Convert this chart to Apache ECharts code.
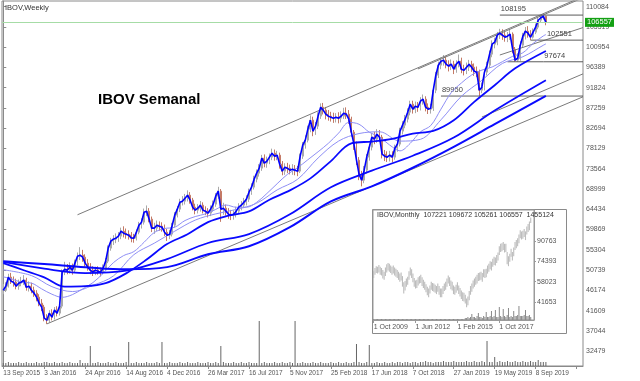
<!DOCTYPE html>
<html><head><meta charset="utf-8">
<script src="https://cdn.jsdelivr.net/npm/echarts@6/dist/echarts.min.js"></script>
<style>html,body{margin:0;padding:0;background:#fff}#c{width:640px;height:381px}</style>
</head><body><div id="c"></div>
<script>
// ---------------- DATA ----------------
const xTickLabels = ['13 Sep 2015','3 Jan 2016','24 Apr 2016','14 Aug 2016','4 Dec 2016','26 Mar 2017','16 Jul 2017','5 Nov 2017','25 Feb 2018','17 Jun 2018','7 Oct 2018','27 Jan 2019','19 May 2019','8 Sep 2019'];
const yTicks = [32479,37044,41609,46174,50739,55304,59869,64434,68999,73564,78129,82694,87259,91824,96389,100954,105519,110084];

const closes = [46200,47110,49140,48240,48010,47110,47790,48010,48470,46890,
47110,46210,45540,44640,43280,42380,39900,39450,41030,40130,
41710,41030,42610,50270,50940,50720,51390,50720,52300,53870,
54100,53650,52300,51390,50720,50270,50720,50500,50270,51170,
52750,55680,57250,57700,57930,58380,59500,59050,58830,58600,
57950,57930,59270,60850,61530,63780,64010,62210,60180,60180,
60850,60630,60400,59270,58600,58830,60850,63110,64460,66040,
66260,66940,67610,66490,64910,64240,64680,65360,64240,64010,
63560,64460,65590,67390,68520,64460,64680,64010,63340,63110,
63340,64010,64910,65360,66040,66710,68290,69420,71220,72570,
73700,75950,74830,75280,76180,77080,76400,76630,74600,73030,
73920,73700,73250,73470,73250,73030,76400,78880,80010,82490,
84520,82040,83160,85430,87440,86770,85870,85430,85190,84970,
85190,84970,85430,86090,85870,84740,81810,79110,75500,72350,
70990,73250,76180,78430,80680,80230,81360,80680,76850,76400,
76180,76630,76180,78210,79110,82040,83390,84740,86320,88120,
86990,87670,87440,88800,89240,87440,86990,87220,91270,94650,
96900,97810,98030,97130,96680,97130,96000,97130,97810,96000,
95780,96450,97130,96450,95550,95330,91270,91950,95330,96900,
99380,101630,102090,103660,104110,103660,103210,103440,103890,100510,
98030,98480,101410,103440,104560,104110,103210,104340,105470,107040,
107600,107950,106557];

const highs = [47600,48000,49900,50100,49300,48800,48600,49200,49600,49000,
48200,47900,47000,46200,45300,44200,42900,40800,41700,41900,
42400,42600,43600,50900,52600,52100,52500,52200,53100,54700,
55900,55300,54300,53200,52300,51600,51500,51600,51300,52000,
53400,56300,58000,58600,59000,59300,60300,60600,60100,59700,
59300,58900,59900,61600,62400,64600,65300,64700,62800,61400,
61900,61700,61500,61000,60000,59800,61400,63800,65200,66800,
67400,67900,68700,68300,67000,65700,65600,66300,66000,65100,
64700,65300,66400,68100,69500,69000,65900,65500,64700,64300,
64200,65000,65800,66300,67000,67600,69100,70300,72000,73400,
74600,76700,76800,76300,77000,78100,77900,77600,77200,75300,
74800,74900,74500,74600,74400,74200,77000,79600,81100,83300,
85600,85300,84100,86300,88300,88400,87500,86800,86400,86200,
86100,86300,86500,87300,87400,86800,85300,82300,79700,76200,
73100,74200,76900,79200,81600,81900,82500,82300,81200,77800,
77500,77600,77500,79000,80200,82800,84300,85700,87200,88900,
88900,88700,88600,89700,90300,89900,88300,88200,92100,95400,
97700,98600,99200,98900,98000,98200,97900,98000,99300,98600,
97000,97500,98100,97900,97300,96600,95900,93000,96100,97700,
100200,102500,103100,104400,105100,105000,104500,104400,105000,104300,
101000,99600,102300,104200,105500,105700,104800,105200,106300,107800,
108100,108195,108000];

const lows = [45300,45800,46800,47600,47000,46400,46300,47100,47400,46100,
45900,45500,44700,43700,42600,41500,39200,38600,38900,39400,
39600,40300,40500,42100,49600,49800,49900,49700,50100,51800,
53000,52600,51500,50600,49800,49400,49600,49700,49300,49800,
50700,52300,55100,56400,56800,57100,57700,58100,57800,57600,
57000,56900,57400,58800,60100,61000,62900,61500,59300,58900,
59500,59600,59400,58400,57300,57700,58300,60300,62600,63800,
65300,65500,66200,65700,64200,63300,63500,63900,63500,63100,
62600,62900,63900,65000,66800,61600,63200,63000,62300,62000,
62100,62600,63400,64200,64700,65300,66100,67700,68900,70500,
71800,73100,73900,73800,74600,75500,75400,75500,73600,72100,
72200,72600,72300,72200,72100,71900,72600,75800,78100,79500,
81800,80900,81200,82500,84800,85800,84700,84400,84200,83900,
84000,83800,84000,84800,84800,83700,80800,77800,74400,71000,
69600,70300,72500,75400,77700,79100,79400,79700,75900,75300,
75100,75200,75000,75600,77400,78600,81300,82700,84000,85600,
86000,86100,86400,86700,88000,86500,85900,86000,86600,90600,
94000,96000,96800,96200,95500,95800,94900,95200,96400,95100,
94600,94900,95600,95400,94500,94200,89950,90600,91200,94600,
96300,98700,100700,101400,102800,102600,102200,102100,102600,99600,
97674,97700,97900,100800,102700,103100,102551,102900,103900,105000,
106500,107200,105900];

const volumes = [3,3,4,3,3,3,4,3,3,4,
3,3,3,4,3,3,4,4,3,3,
4,3,3,4,3,3,4,3,3,3,
6,3,3,3,20,3,3,4,3,3,
3,4,3,3,4,3,3,3,4,24,
3,3,4,3,3,3,4,3,3,3,
4,3,24,3,3,4,3,3,3,4,
3,3,4,3,3,3,4,3,3,3,
4,3,3,4,3,20,4,3,3,3,
4,3,3,4,3,3,4,3,3,3,
45,3,4,3,3,3,4,3,3,4,
3,3,4,3,45,3,3,4,3,3,
3,4,3,3,4,3,3,3,4,3,
3,4,3,3,4,3,3,4,22,4,
3,3,4,21,3,3,4,3,3,4,
3,3,4,3,4,4,3,4,4,3,
4,4,3,4,4,5,4,4,3,4,
4,4,5,4,4,4,5,4,4,4,
4,5,4,4,5,4,4,5,4,25,
4,4,9,4,5,4,4,5,4,4,
5,4,4,5,4,4,5,4,4,6,
4,4,4];

// moving averages read at selected weeks (week index, value)
const maFastIdx = [0,3,7,11,15,19,23,27,31,35,39,43,47,51,55,59,63,67,71,75,79,83,87,91,95,99,103,107,111,115,119,123,127,131,135,139,143,147,151,155,159,163,167,171,175,179,183,187,191,195,199,203,207,211,212];
const maFast = [49200,48800,48000,47800,46500,45300,44600,45200,46500,47900,50000,52400,54000,54900,57000,59200,60100,60400,61900,62800,63400,64400,65400,64900,64900,66000,68000,70200,72300,73800,75600,77400,79300,81600,84000,83600,81800,80700,78900,77600,79300,81900,83300,87000,90700,92900,94700,95800,96500,97700,98900,99700,101800,103500,103800];
const maMidIdx = [0,11,19,27,35,43,51,59,67,75,83,91,99,107,115,123,131,139,147,155,163,171,179,187,195,203,211,212];
const maMid = [50800,49500,47000,45900,47300,49400,54200,56800,59500,62000,63400,64400,65800,68800,71200,76000,79800,81500,81900,79800,80200,84600,89900,93500,97300,98800,101400,101700];
const ma40Idx = [0,8,16,24,32,40,48,56,64,72,80,88,96,104,112,120,128,136,144,152,160,168,176,184,192,200,212];
const ma40 = [52300,50700,49100,47000,47100,47800,50000,53100,56600,58800,61550,63000,63950,66600,68700,71400,75300,79300,79700,80300,81500,82100,84500,88650,92400,96200,100100];
const maSlowIdx = [0,16,32,48,64,80,96,112,128,144,160,176,192,212];
const ma70 = [52560,51050,50070,50590,53220,56840,58850,63300,69390,73140,76500,80600,86680,93500];
const ma100 = [52700,52100,51400,50900,51400,54300,56100,60400,66200,69600,73800,78500,83600,90000];

// trend lines: [week index, price] pairs
const trendLines = [
  [[29,63200],[227,112500]],
  [[162,96050],[226.5,112100]],
  [[194,99200],[226.5,105380]],
  [[187,85230],[226.5,94950]],
  [[17,38600],[226.5,89780]]
];
// horizontal levels
const levelValues = [108195,102551,97674,89950];
const levelFrom   = [194,206,197,171];
const levelLabelAt= [194,212,211,171];

// monthly inset
const insetXLabels = ['1 Oct 2009','1 Jun 2012','1 Feb 2015','1 Oct 2017'];
const insetYTicks = [41653,58023,74393,90763];
const insetHeader = 'IBOV,Monthly  107221 109672 105261 106557  1455124';
const mHigh = [66500,69000,70500,70000,71500,70000,69000,67500,66000,69500,
72000,73000,72500,71000,70000,71000,69500,68500,67500,66000,
64500,65500,62500,57500,58500,60500,62000,66500,69500,68000,
64500,61000,59000,59500,61500,62500,63500,61500,59500,58000,
56000,54000,52500,55000,58000,57000,56500,55500,54500,56500,
54500,52500,52500,54500,56500,58000,60500,63000,61500,59000,
58000,55000,54000,55500,57500,55000,53000,51000,49500,49000,
47500,44500,46000,50500,54500,56500,59000,60500,62000,63500,
65000,65500,66000,65000,68000,68000,68500,71000,72500,74500,
74000,76500,78000,77500,79500,81500,86500,88500,89000,90000,
88500,88500,82000,78500,80500,84500,82000,85500,90000,91500,
93000,96000,99500,98500,99000,100500,98500,102500,104500,106500,
109672];
const mLow = [61000,63500,65000,64500,65500,63500,63000,60500,59500,62500,
65500,67000,66000,65000,63500,64500,63000,62000,61000,59500,
58000,59000,54000,48500,51000,54000,55500,59500,63000,61000,
57500,54000,52500,53000,55000,56500,57000,54500,53000,51500,
49500,47000,45500,48500,51500,50500,50000,49000,48000,50000,
47500,45500,45500,48000,50500,51500,54000,56500,54500,52000,
51000,48000,47500,49000,51000,48000,46000,44000,42500,42000,
40500,37500,39000,43000,47500,50000,52500,54000,55500,56500,
58500,59000,59500,58000,61500,61000,61500,64500,66000,68000,
67000,70000,71500,71000,73000,75000,79500,82000,82500,83500,
81500,82000,72000,70500,74000,78000,75000,78500,83500,85000,
86500,89000,93000,92000,92500,94000,91500,96000,98000,99500,
105261];
const mVolumes = [1,1,1,1,1,1,1,1,1,1,1,1,1,1,1,1,1,1,1,1,
1,1,1,1,1,1,1,1,1,1,1,1,1,1,1,1,1,1,1,1,
1,1,1,1,1,1,1,1,1,1,1,1,1,1,1,1,1,1,1,1,
1,1,1,1,1,1,1,1,1,1,
2,2,3,2,3,6,3,3,2,4,
7,3,3,2,4,3,8,3,3,4,
9,3,4,10,3,3,13,4,3,11,
4,3,5,12,3,4,3,9,4,4,
5,14,4,4,4,5,10,4,4,5,3];

// ---------------- CHART ----------------
const FONT = 'Liberation Sans';
const N = 227;           // weekly slots on the axis (data + right shift)
const M = 123;           // monthly slots in inset
const cats = Array.from({length: N}, (_, i) => String(i));
const mCats = Array.from({length: M}, (_, i) => String(i));
const lastPrice = closes[closes.length - 1];
const candles = closes.map((c, i) => [i ? closes[i - 1] : c, c, lows[i], highs[i]]);
const pairs = (idx, vals) => idx.map((k, j) => [k, vals[j]]);

const chart = echarts.init(document.getElementById('c'), null, {renderer: 'canvas'});

const series = [];
series.push({
  type: 'candlestick', xAxisIndex: 0, yAxisIndex: 0, data: candles, barWidth: 1.4, z: 1,
  itemStyle: {color: '#e4e4e4', color0: '#d99a88', borderColor: '#a9a9a9', borderColor0: '#c47a66', borderWidth: 1}
});
series.push({
  type: 'bar', xAxisIndex: 2, yAxisIndex: 1, data: volumes, barWidth: 1, z: 1,
  itemStyle: {color: '#666'}
});
trendLines.forEach(t => series.push({
  type: 'line', xAxisIndex: 1, yAxisIndex: 0, data: t, symbol: 'none', z: 2,
  lineStyle: {color: '#7a7a7a', width: 1}
}));
levelValues.forEach((v, k) => series.push({
  type: 'line', xAxisIndex: 1, yAxisIndex: 0, symbol: 'circle', symbolSize: 0.01, z: 2,
  lineStyle: {color: '#5a5a5a', width: 1},
  data: [[levelFrom[k], v],
         {value: [levelLabelAt[k], v], label: {show: true, formatter: String(v), position: [1, -10], fontSize: 7.5, fontFamily: FONT, color: '#444'}},
         [N - 0.5, v]]
}));
const maStyle = (c, w) => ({type: 'line', xAxisIndex: 1, yAxisIndex: 0, symbol: 'none', smooth: 0.35, z: 3, lineStyle: {color: c, width: w}});
series.push(Object.assign(maStyle('#8f8ff5', 1), {data: pairs(maFastIdx, maFast)}));
series.push(Object.assign(maStyle('#8f8ff5', 1), {data: pairs(maMidIdx, maMid)}));
series.push(Object.assign(maStyle('#0a0aff', 1.8), {data: pairs(ma40Idx, ma40)}));
series.push(Object.assign(maStyle('#0a0aff', 1.8), {data: pairs(maSlowIdx, ma70)}));
series.push(Object.assign(maStyle('#0a0aff', 2), {data: pairs(maSlowIdx, ma100)}));
series.push({
  type: 'line', xAxisIndex: 0, yAxisIndex: 0, data: closes, symbol: 'none', z: 4,
  lineStyle: {color: '#0000ff', width: 1.6},
  markLine: {silent: true, symbol: 'none', animation: false,
    lineStyle: {color: '#a6dca6', width: 1, type: 'solid'},
    label: {position: 'end', distance: 2, formatter: String(lastPrice), color: '#fff', backgroundColor: '#14a014', padding: [1, 2, 0, 2], fontSize: 7.5, fontFamily: FONT},
    data: [{yAxis: lastPrice}]}
});
// inset
series.push({
  type: 'custom', xAxisIndex: 3, yAxisIndex: 2, z: 60,
  data: mHigh.map((h, k) => [k, mLow[k], h]),
  encode: {x: 0, y: [1, 2]},
  renderItem: (params, api) => {
    const a = api.coord([api.value(0), api.value(1)]);
    const b = api.coord([api.value(0), api.value(2)]);
    return {type: 'line', shape: {x1: a[0], y1: a[1], x2: b[0], y2: b[1]}, style: {stroke: '#bdbdbd', lineWidth: 1.1}};
  }
});
series.push({
  type: 'line', xAxisIndex: 3, yAxisIndex: 2, data: [], z: 60,
  markLine: {silent: true, symbol: 'none', animation: false,
    lineStyle: {color: '#a6dca6', width: 1, type: 'solid'},
    label: {position: 'end', distance: 1, formatter: String(lastPrice), color: '#fff', backgroundColor: '#14a014', padding: [1, 2, 0, 2], fontSize: 7, fontFamily: FONT},
    data: [{yAxis: lastPrice}]}
});
series.push({
  type: 'bar', xAxisIndex: 4, yAxisIndex: 3, data: mVolumes, barWidth: 1, z: 60,
  itemStyle: {color: '#888'}
});

const labelStyle = {fontSize: 7, fontFamily: FONT, color: '#555'};
chart.setOption({
  animation: false,
  backgroundColor: '#fff',
  grid: [
    {left: 2, top: 1, width: 581, bottom: 15, show: true, borderColor: '#8a8a8a', borderWidth: 1},
    {left: 2, width: 581, bottom: 15, height: 60},
    {left: 373, top: 210, width: 161, height: 110, show: true, borderColor: '#9a9a9a', borderWidth: 1, z: 55},
    {left: 373, top: 304, width: 161, height: 16, z: 55}
  ],
  xAxis: [
    {type: 'category', gridIndex: 0, data: cats, boundaryGap: true,
     axisLine: {show: true, lineStyle: {color: '#8a8a8a'}},
     axisTick: {show: true, interval: 15, alignWithLabel: true, length: 3, lineStyle: {color: '#8a8a8a'}},
     axisLabel: {interval: 15, showMinLabel: true, hideOverlap: false, align: 'left', margin: 4, fontSize: 6.5, fontFamily: FONT, color: '#555', formatter: (v, i) => xTickLabels[i / 16] || ''},
     splitLine: {show: false}},
    {type: 'value', gridIndex: 0, min: -0.5, max: N - 0.5, show: false},
    {type: 'category', gridIndex: 1, data: cats, show: false},
    {type: 'category', gridIndex: 2, data: mCats, z: 60,
     axisLine: {show: true, lineStyle: {color: '#9a9a9a'}},
     axisTick: {show: true, interval: 31, alignWithLabel: true, length: 3, lineStyle: {color: '#9a9a9a'}},
     axisLabel: {interval: 31, showMinLabel: true, align: 'left', margin: 4, fontSize: 7, fontFamily: FONT, color: '#555', formatter: (v, i) => insetXLabels[i / 32] || ''},
     splitLine: {show: false}},
    {type: 'category', gridIndex: 3, data: mCats, show: false}
  ],
  yAxis: [
    {type: 'value', gridIndex: 0, position: 'right', min: 29123, max: 111369, scale: true,
     axisLine: {show: true, lineStyle: {color: '#8a8a8a'}},
     axisTick: {show: true, customValues: yTicks, length: 3, lineStyle: {color: '#8a8a8a'}},
     axisLabel: Object.assign({customValues: yTicks, margin: 3, formatter: v => String(v)}, labelStyle),
     splitLine: {show: false}},
    {type: 'value', gridIndex: 1, min: 0, max: 60, show: false},
    {type: 'value', gridIndex: 2, position: 'right', min: 27163, max: 115718, z: 60,
     axisLine: {show: true, lineStyle: {color: '#9a9a9a'}},
     axisTick: {show: true, customValues: insetYTicks, length: 2, lineStyle: {color: '#9a9a9a'}},
     axisLabel: {customValues: insetYTicks, margin: 3, fontSize: 7, fontFamily: FONT, color: '#555', formatter: v => String(v)},
     splitLine: {show: false}},
    {type: 'value', gridIndex: 3, min: 0, max: 16, show: false}
  ],
  graphic: [
    {type: 'text', left: 5, top: 4, z: 100, style: {text: 'IBOV,Weekly', font: '7.5px ' + FONT, fill: '#333'}},
    {type: 'text', left: 98, top: 92, z: 100, style: {text: 'IBOV Semanal', font: 'bold 15px ' + FONT, fill: '#000'}},
    {type: 'rect', z: 50, shape: {x: 372.5, y: 209.5, width: 194, height: 124}, style: {fill: '#fff', stroke: '#8a8a8a', lineWidth: 1}},
    {type: 'text', left: 377, top: 212, z: 70, style: {text: insetHeader, font: '7px ' + FONT, fill: '#333'}}
  ],
  series: series
});
</script>
</body></html>
